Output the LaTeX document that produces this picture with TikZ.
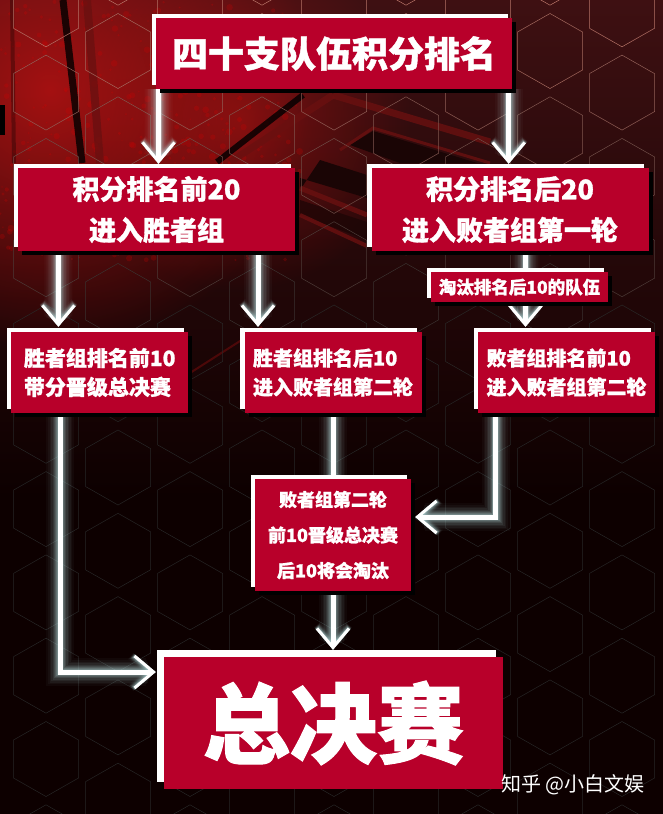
\documentclass[tikz,border=0pt]{standalone}
\usepackage{fontspec}
\setmainfont{Noto Sans CJK SC}[BoldFeatures={FakeBold=1.2}]
\usetikzlibrary{arrows.meta,shadows,fadings}
\definecolor{boxred}{HTML}{B8002A}
\definecolor{glowc}{HTML}{BFE8E8}
\definecolor{wallred}{HTML}{3E1012}
\definecolor{hotred}{HTML}{C01212}
\definecolor{bandred}{HTML}{6A1010}
\definecolor{darkwell}{HTML}{1A0505}
\definecolor{hextop}{HTML}{B87468}
\definecolor{hexlow}{HTML}{262626}
\pgfdeclarelayer{bg}
\pgfdeclarelayer{flowlayer}
\pgfsetlayers{bg,flowlayer,main}
\tikzfading[name=fadeblob,inner color=transparent!0,outer color=transparent!100]
\tikzset{
    cardbox/.style={fill=boxred,text=white,font=\bfseries,inner sep=0pt,align=center,
        general shadow={fill=black,shadow xshift=4pt,shadow yshift=-4pt},
        general shadow={fill=white,shadow xshift=-4.5pt,shadow yshift=4pt}},
    bigbox/.style={cardbox,minimum width=277pt,minimum height=83pt,font=\bfseries\fontsize{27}{41}\selectfont},
    midbox/.style={cardbox,minimum width=177pt,minimum height=81pt,font=\bfseries\fontsize{20}{29}\selectfont},
    tipa/.style={-{Straight Barb[length=19pt,width=32pt,line width=#1]}},
    tipn/.style={},
    halo/.style n args={3}{preaction={draw=glowc,line width=#1,opacity=#2,#3}},
    flow/.style={draw=white,line width=5pt,
        halo={28pt}{.03}{#1=8pt},halo={24pt}{.04}{#1=7pt},halo={21pt}{.05}{#1=6.5pt},
        halo={18pt}{.06}{#1=6pt},halo={15pt}{.08}{#1=5.5pt},halo={12pt}{.1}{#1=5pt},
        halo={10pt}{.13}{#1=4.5pt},halo={8pt}{.16}{#1=4pt},halo={6.5pt}{.2}{#1=3.5pt},
        #1=3pt},
    hexline/.style={line width=.5pt},
    band/.style={draw=black,line width=#1,opacity=.8},
    redband/.style={draw=bandred,line width=#1,opacity=.8}
}
\begin{document}
\begin{tikzpicture}[x=1pt,y=-1pt]
    \useasboundingbox (0,0) rectangle (663,814);

    \node[cardbox,minimum width=356pt,minimum height=71pt,font=\bfseries\fontsize{36}{40}\selectfont] (rank) at (334,53.5) {四十支队伍积分排名};
    \node[bigbox] (upper) at (156.5,209.5) {积分排名前20\\进入胜者组};
    \node[bigbox] (lower) at (510,209.5) {积分排名后20\\进入败者组第一轮};
    \node[cardbox,minimum width=177pt,minimum height=30pt,font=\bfseries\fontsize{17.5}{20}\selectfont] (elim) at (519.5,287) {淘汰排名后10的队伍};
    \node[midbox,align=left,font=\bfseries\fontsize{21}{29}\selectfont] (upfirst) at (99.7,372.5) {胜者组排名前10\\带分晋级总决赛};
    \node[midbox,align=left] (uplast) at (333,372.5) {胜者组排名后10\\进入败者组第二轮};
    \node[midbox,align=left] (lowfirst) at (566.5,372.5) {败者组排名前10\\进入败者组第二轮};
    \node[cardbox,minimum width=156pt,minimum height=112pt,font=\bfseries\fontsize{18}{35.5}\selectfont] (second) at (333,535) {败者组第二轮\\前10晋级总决赛\\后10将会淘汰};
    \node[fill=boxred,text=white,font=\bfseries\fontsize{87}{90}\selectfont,inner sep=0pt,
        minimum width=339pt,minimum height=132pt,
        general shadow={fill=white,shadow xshift=-7.5pt,shadow yshift=7pt}] (final) at (333.5,723) {总决赛};
    \node[text=white,font=\fontsize{20}{24}\selectfont,inner sep=0pt,anchor=east] (mark) at (645,785) {知乎 @小白文娱};

    \begin{pgfonlayer}{flowlayer}
        \draw[flow=tipa] ([xshift=-175.4pt]rank.south) -- ([xshift=2pt,yshift=4pt]upper.north);
        \draw[flow=tipa] ([xshift=174.7pt]rank.south) -- ([xshift=-1.3pt,yshift=4pt]lower.north);
        \draw[flow=tipa] ([xshift=-98pt]upper.south) -- ([xshift=-41.3pt,yshift=5pt]upfirst.north);
        \draw[flow=tipa] ([xshift=101.5pt]upper.south) -- ([xshift=-75pt,yshift=5pt]uplast.north);
        \draw[flow=tipa] ([xshift=15.6pt]lower.south) -- ([xshift=-41pt,yshift=5pt]lowfirst.north);
        \draw[flow=tipn] (uplast.south) -- ([yshift=4pt]second.north);
        \draw[flow=tipa] ([xshift=-71pt]lowfirst.south) |- ([xshift=4pt,yshift=18pt]second.east);
        \draw[flow=tipa] ([xshift=-39.7pt]upfirst.south) |- ([xshift=-8pt,yshift=51pt]final.west);
        \draw[flow=tipa] (second.south) -- ([xshift=-.5pt,yshift=7pt]final.north);
    \end{pgfonlayer}

    \begin{pgfonlayer}{bg}
        \fill[black!95!red] (0,0) rectangle (663,814);
        \shade[top color=wallred,bottom color=black!95!red] (0,0) rectangle (663,500);
        \fill[hotred,path fading=fadeblob,opacity=.8] (50,90) circle (260);
        \fill[hotred,path fading=fadeblob,opacity=.5] (240,120) circle (170);
        \pgfmathsetseed{7}
        \foreach \i in {1,...,450}
            \fill[red!85!black,opacity=.22] ({rnd*300},{rnd*260}) circle ({.5+rnd*3});
        \draw[band=7pt] (63,0) -- (82,163);
        \draw[redband=8pt] (87,0) -- (100,163);
        \draw[band=4pt,opacity=.3] (12,0) -- (14,163);
        \fill[black] (0,105) rectangle (5,135);
        \draw[band=6pt] (217,162) -- (303,95);
        \draw[redband=7pt] (230,162) -- (333,95);
        \draw[redband=7pt] (333,95) -- (490,142);
        \fill[darkwell] (350,145) -- (373,131) -- (477,163) -- (400,163) -- cycle;
        \draw[redband=3pt] (340,150) -- (373,128) -- (490,163);
        \fill[darkwell] (300,190) -- (320,160) -- (367,175) -- (367,198) -- (300,178) -- cycle;
        \draw[redband=5pt] (300,188) -- (367,215);
        \fill[darkwell,opacity=.7] (300,200) -- (367,222) -- (367,240) -- (300,215) -- cycle;
        \draw[redband=4pt] (300,215) -- (367,246);
        \draw[draw=hotred,line width=2pt,opacity=.3] (190,373) -- (262,327);
        \foreach \cx [count=\col] in {46,118,190,262,334,406,478,550,622}
        \foreach \row in {-1,...,10}{
            \pgfmathsetmacro\cy{(isodd(\col) ? 9.3 : 51) + \row*83.3}
            \pgfmathsetmacro\mixv{max(0,min(100,100-\cy/3.5))}
            \draw[hexline,draw=hextop!\mixv!hexlow] (\cx,\cy-37.5) -- ++(32.5,18.5) -- ++(0,38) -- ++(-32.5,18.5) -- ++(-32.5,-18.5) -- ++(0,-38) -- cycle;
        }
    \end{pgfonlayer}
\end{tikzpicture}
\end{document}
